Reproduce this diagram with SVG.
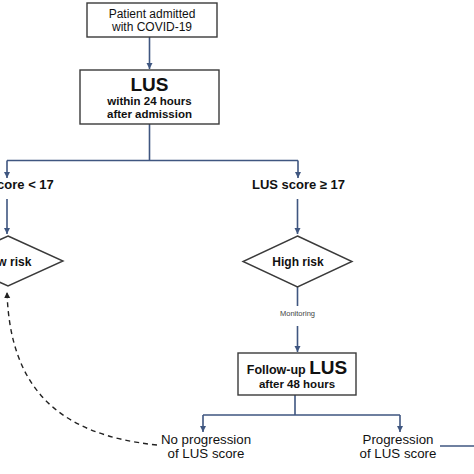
<svg xmlns="http://www.w3.org/2000/svg" width="474" height="474" viewBox="0 0 474 474">
<style>
.box{fill:#fff;stroke:#3a3a3a;stroke-width:1.4}
.c{fill:none;stroke:#3f5680;stroke-width:1.6}
.d{fill:none;stroke:#222;stroke-width:1.4;stroke-dasharray:5,4}
text{font-family:"Liberation Sans",Arial,sans-serif;fill:#111;text-anchor:middle}
.b{font-weight:bold}
</style>
<defs>
<marker id="ah" markerWidth="8" markerHeight="8" refX="6" refY="3" orient="auto" markerUnits="userSpaceOnUse">
<path d="M0,0 L6,3 L0,6 Z" fill="#3f5680"/>
</marker>
<marker id="ahk" markerWidth="8" markerHeight="8" refX="6" refY="3" orient="auto" markerUnits="userSpaceOnUse">
<path d="M0,0 L6,3 L0,6 Z" fill="#222"/>
</marker>
</defs>
<rect width="474" height="474" fill="#fff"/>
<g id="connectors">
<path class="c" d="M149.5,37 V69" marker-end="url(#ah)"/>
<path class="c" d="M149.5,124 V160.5 M7,160.5 H298"/>
<path class="c" d="M7,160.5 V178" marker-end="url(#ah)"/>
<path class="c" d="M298,160.5 V178" marker-end="url(#ah)"/>
<path class="c" d="M7,199 V234" marker-end="url(#ah)"/>
<path class="c" d="M297.5,199 V234" marker-end="url(#ah)"/>
<path class="c" d="M297.5,287 V306"/>
<path class="c" d="M297.5,326 V352" marker-end="url(#ah)"/>
<path class="c" d="M295,395 V415 M203,415 H400"/>
<path class="c" d="M203,415 V432" marker-end="url(#ah)"/>
<path class="c" d="M400,415 V432" marker-end="url(#ah)"/>
<path class="c" d="M440,446 H474"/>
<path class="d" d="M157,445 C60,435 10,390 7,292" marker-end="url(#ahk)"/>
</g>
<g id="n-patient">
<rect class="box" x="87" y="3" width="130" height="34"/>
<text x="152" y="18" font-size="12">Patient admitted</text>
<text x="152" y="31" font-size="12">with COVID-19</text>
</g>
<g id="n-lus">
<rect class="box" x="80" y="70" width="139" height="54"/>
<text class="b" x="149.5" y="91" font-size="19">LUS</text>
<text class="b" x="149.5" y="105" font-size="11.5">within 24 hours</text>
<text class="b" x="149.5" y="118" font-size="11.5">after admission</text>
</g>
<g id="n-low-score">
<text class="b" x="7" y="189" font-size="13">LUS score &lt; 17</text>
</g>
<g id="n-high-score">
<text class="b" x="298.5" y="189" font-size="13">LUS score ≥ 17</text>
</g>
<g id="n-low-risk">
<polygon class="box" points="8,236 63,261 8,286 -47,261"/>
<text class="b" x="7" y="265.5" font-size="12">Low risk</text>
</g>
<g id="n-high-risk">
<polygon class="box" points="297.5,236 352,261.5 297.5,287 243,261.5"/>
<text class="b" x="298" y="265.5" font-size="12">High risk</text>
</g>
<g id="n-monitoring">
<text x="297.5" y="316" font-size="7.5" fill="#444" style="fill:#444">Monitoring</text>
</g>
<g id="n-followup">
<rect class="box" x="238" y="353" width="118" height="42"/>
<text class="b" x="297" y="374" font-size="12.5">Follow-up <tspan font-size="19">LUS</tspan></text>
<text class="b" x="297" y="388" font-size="11.5">after 48 hours</text>
</g>
<g id="n-noprog">
<text x="206" y="444" font-size="13.3">No progression</text>
<text x="206" y="458" font-size="13.3">of LUS score</text>
</g>
<g id="n-prog">
<text x="398" y="444" font-size="13.3">Progression</text>
<text x="398" y="458" font-size="13.3">of LUS score</text>
</g>
</svg>
